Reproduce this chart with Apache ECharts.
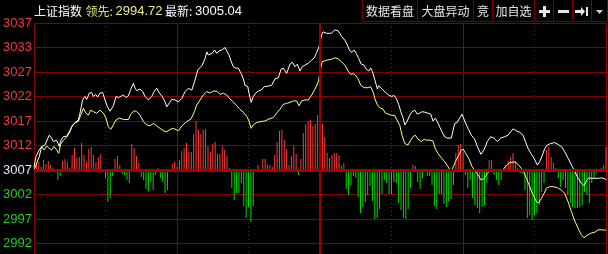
<!DOCTYPE html>
<html><head><meta charset="utf-8">
<script src="https://cdn.jsdelivr.net/npm/echarts@6/dist/echarts.min.js"></script>
<style>html,body{margin:0;padding:0;background:#000;overflow:hidden}#c{width:608px;height:254px}</style>
</head><body><div id="c"></div>
<script>
// ---- data ----
const yTickLabels = ['2987','2992','2997','3002','3007','3012','3017','3022','3027','3033','3037'];
const titleParts = ['上证指数', '领先:', '最新:'];
const toolbarButtons = ['数据看盘', '大盘异动', '竞', '加自选'];

// [minute, price] for the index (white)
const indexLine = [[0,3007.0],[2.2,3009.7],[3.2,3011.8],[4.6,3012.1],[5.3,3011.8],[6.4,3014.1],[7.4,3013.5],[8.1,3012.8],[9.5,3013.1],[10.6,3011.8],[11.3,3013.1],[12.3,3013.8],[13.7,3013.9],[14.8,3014.8],[15.8,3015.8],[17.2,3016.7],[18.6,3017.2],[19.3,3018.6],[20.4,3021.3],[21.4,3022.0],[22.1,3021.4],[23.2,3022.7],[24.2,3022.8],[24.9,3022.0],[25.9,3022.4],[26.7,3021.9],[27.7,3022.7],[28.8,3022.8],[29.8,3021.3],[30.8,3019.9],[31.9,3019.0],[33.3,3020.1],[34.4,3022.0],[35.4,3021.8],[36.4,3022.0],[37.5,3022.3],[38.6,3021.8],[39.6,3022.1],[40.6,3023.5],[41.7,3024.7],[42.4,3023.7],[43.1,3023.2],[44.5,3023.5],[45.6,3023.0],[46.6,3022.0],[48.0,3021.3],[49.4,3022.0],[50.4,3023.0],[51.5,3023.7],[52.6,3022.7],[53.8,3022.0],[55.0,3020.9],[55.7,3019.9],[56.8,3020.7],[57.8,3021.4],[59.2,3021.3],[60.6,3020.9],[62.0,3021.6],[63.4,3023.0],[64.8,3023.7],[66.2,3023.3],[67.6,3025.4],[68.7,3027.4],[69.7,3027.9],[70.6,3028.4],[71.8,3029.8],[72.5,3031.1],[73.1,3030.5],[73.9,3030.1],[74.8,3030.8],[75.7,3031.5],[76.7,3030.8],[77.6,3031.3],[78.8,3031.5],[80.2,3032.0],[80.9,3031.3],[81.8,3030.5],[82.7,3029.2],[83.6,3028.1],[84.6,3027.8],[85.7,3027.8],[86.9,3026.7],[87.8,3025.7],[88.5,3024.3],[89.7,3024.0],[90.2,3022.7],[91.1,3020.8],[92.0,3022.0],[93.0,3022.7],[94.1,3023.1],[95.3,3023.3],[96.6,3024.0],[98.1,3024.1],[99.7,3024.3],[101.1,3025.6],[102.5,3025.8],[103.7,3027.6],[104.6,3027.8],[106.0,3026.7],[107.4,3028.6],[108.4,3029.0],[109.5,3028.1],[110.5,3028.6],[111.6,3027.2],[112.6,3028.1],[113.7,3028.4],[115.1,3028.8],[116.5,3029.4],[117.6,3029.9],[118.6,3031.0],[119.6,3032.2],[120.7,3034.6],[121.3,3035.2],[122.7,3034.9],[124.8,3034.9],[126.2,3035.6],[127.6,3035.4],[129.2,3034.2],[130.4,3033.5],[131.5,3032.5],[132.5,3031.3],[133.4,3031.0],[134.3,3031.5],[135.2,3030.8],[136.3,3029.7],[137.3,3028.6],[138.5,3028.4],[139.4,3027.6],[140.5,3027.2],[141.3,3027.8],[142.0,3027.1],[143.0,3025.4],[144.1,3023.5],[144.6,3024.2],[145.7,3023.7],[146.9,3023.1],[147.8,3022.7],[148.8,3022.3],[149.9,3022.0],[151.1,3022.2],[152.0,3021.6],[153.0,3020.4],[153.9,3018.9],[154.8,3017.7],[155.6,3016.2],[156.6,3017.0],[157.7,3018.2],[158.6,3018.9],[159.8,3019.2],[160.8,3018.4],[161.9,3018.6],[162.8,3018.9],[164.0,3018.8],[165.3,3018.6],[166.5,3018.4],[167.4,3017.0],[168.4,3017.6],[169.2,3016.9],[170.2,3015.8],[171.2,3014.8],[172.3,3013.8],[173.4,3013.5],[175.1,3013.5],[175.8,3013.8],[176.5,3016.5],[177.6,3016.7],[178.6,3017.6],[179.6,3018.4],[180.7,3017.0],[182.1,3015.5],[183.5,3014.1],[184.9,3013.3],[186.0,3011.8],[187.5,3010.2],[188.8,3011.1],[190.2,3012.8],[191.6,3013.8],[193.0,3013.5],[194.4,3012.8],[195.8,3013.5],[197.5,3013.8],[198.9,3014.1],[200.0,3014.8],[201.0,3015.4],[202.4,3015.0],[203.8,3014.7],[205.2,3014.1],[206.2,3012.8],[207.3,3011.4],[208.7,3010.2],[209.8,3009.4],[211.2,3008.0],[212.2,3008.7],[213.2,3009.9],[214.3,3011.4],[215.4,3012.1],[216.8,3012.4],[218.5,3012.6],[219.9,3012.2],[221.3,3011.8],[222.7,3010.7],[224.1,3009.4],[225.5,3008.0],[226.9,3006.7],[228.3,3005.3],[229.7,3004.3],[230.8,3003.8],[231.8,3004.8],[232.8,3005.4],[233.9,3005.3],[235.3,3005.3],[236.7,3005.3],[238.1,3005.4],[239.5,3005.2],[240,3005.04]];

// [minute, price] for the leading line (yellow)
const leadLine = [[0,3007.5],[0.8,3009.7],[2.2,3011.1],[3.2,3011.8],[4.2,3011.1],[5.3,3011.9],[6.4,3011.4],[7.4,3011.1],[8.4,3011.8],[9.5,3011.1],[10.4,3010.4],[11.2,3012.3],[12.3,3013.1],[13.7,3013.7],[14.8,3014.5],[16.2,3016.2],[17.6,3016.7],[18.6,3016.9],[19.6,3018.2],[20.7,3019.6],[21.8,3018.6],[22.8,3018.2],[23.8,3019.2],[24.9,3018.9],[26.3,3018.6],[27.7,3019.2],[29.1,3018.6],[30.2,3017.6],[31.2,3015.8],[32.2,3015.3],[33.3,3016.2],[34.4,3017.2],[35.8,3017.6],[37.5,3017.3],[39.6,3017.3],[40.6,3018.4],[42.0,3019.1],[43.1,3018.9],[44.5,3018.2],[45.9,3016.9],[47.3,3016.2],[48.7,3016.0],[50.1,3016.5],[51.5,3016.0],[52.9,3015.5],[54.3,3015.0],[55.7,3014.8],[57.1,3015.3],[58.5,3015.5],[60.6,3015.0],[62.0,3016.0],[64.1,3016.9],[65.9,3017.4],[67.3,3018.9],[68.3,3020.3],[69.7,3021.3],[71.0,3022.3],[72.5,3023.0],[73.9,3022.7],[75.2,3023.1],[76.7,3023.1],[78.1,3022.4],[79.4,3022.7],[80.9,3022.3],[82.2,3021.5],[83.6,3020.9],[85.1,3020.1],[86.4,3019.4],[87.8,3018.8],[89.3,3017.9],[90.2,3017.0],[91.1,3015.5],[92.0,3016.2],[93.5,3016.7],[95.3,3016.9],[96.9,3017.0],[98.6,3017.4],[100.4,3017.7],[101.8,3018.6],[103.2,3019.4],[104.6,3020.4],[106.0,3020.6],[107.4,3020.8],[108.8,3021.1],[110.2,3021.1],[111.2,3020.1],[112.3,3021.1],[113.7,3021.3],[115.1,3021.3],[116.5,3022.3],[117.9,3023.5],[119.3,3025.0],[120.3,3027.8],[120.9,3029.1],[122.7,3029.4],[124.8,3029.6],[126.2,3029.9],[127.6,3029.7],[129.0,3029.1],[130.4,3028.4],[131.8,3027.2],[132.9,3026.5],[133.9,3026.7],[134.8,3026.4],[136.0,3025.6],[137.1,3024.3],[138.5,3023.8],[140.2,3023.8],[141.3,3024.0],[142.3,3022.9],[143.2,3021.3],[144.1,3020.3],[145.1,3019.7],[146.5,3019.4],[147.4,3018.6],[148.6,3018.4],[149.9,3018.2],[151.4,3018.1],[152.5,3017.0],[153.5,3016.1],[154.4,3014.1],[155.6,3012.4],[156.9,3012.1],[158.1,3013.1],[159.0,3013.8],[160.0,3014.1],[161.1,3013.3],[162.5,3012.8],[163.7,3013.3],[164.6,3013.1],[166.1,3013.1],[167.4,3012.9],[168.4,3011.3],[169.5,3010.4],[170.9,3009.5],[172.3,3008.7],[173.7,3007.7],[174.9,3006.7],[175.8,3007.5],[176.8,3008.7],[177.9,3009.7],[179.1,3010.9],[180.0,3011.3],[181.0,3010.5],[182.4,3009.4],[183.8,3007.7],[185.2,3006.7],[186.3,3006.0],[187.5,3005.0],[188.8,3005.2],[190.2,3006.3],[191.6,3007.0],[193.3,3007.1],[195.4,3007.1],[196.8,3007.1],[197.8,3007.7],[199.2,3008.4],[200.6,3008.6],[202.0,3008.6],[203.4,3008.0],[204.5,3007.3],[205.6,3006.5],[206.6,3005.3],[207.6,3004.1],[208.7,3002.7],[209.8,3001.6],[210.8,3000.5],[211.8,3000.3],[212.9,3001.2],[214.0,3002.2],[215.0,3003.3],[216.4,3003.6],[217.8,3003.6],[219.6,3003.4],[221.3,3002.9],[222.7,3002.2],[224.1,3000.5],[225.5,2998.5],[226.9,2996.6],[228.3,2995.1],[229.7,2993.7],[230.8,2993.2],[232.2,2993.7],[233.6,2994.1],[235.3,2994.3],[236.7,2994.8],[238.1,2994.8],[239.5,2994.72],[240,2994.72]];

// [minute, strength] red (+) / green (-) bars around the 3007 line
const flowBars = [[1,7],[2,8],[3,3],[4,10],[5,6],[6,9],[7,5],[8,2],[10,-10],[11,-6],[12,9],[13,11],[14,8],[15,2],[16,15],[17,22],[18,12],[19,13],[20,27],[21,15],[22,8],[23,21],[24,23],[25,15],[26,8],[27,13],[28,16],[29,-1],[30,-8],[31,-32],[32,-28],[33,-6],[34,11],[35,14],[36,5],[37,-4],[38,-5],[39,-10],[40,-13],[41,26],[42,22],[43,14],[44,7],[45,-7],[46,-10],[47,-19],[48,-21],[49,-12],[50,-20],[51,-5],[52,2],[53,-8],[54,-12],[55,-23],[56,-20],[57,-1],[58,6],[59,8],[60,3],[61,10],[62,19],[63,22],[64,27],[65,18],[66,18],[67,36],[68,49],[69,40],[70,36],[71,40],[72,41],[73,24],[74,18],[75,26],[76,28],[77,16],[78,16],[79,24],[80,20],[81,14],[82,2],[83,-18],[84,-30],[85,-23],[86,-23],[87,-13],[88,-36],[89,-48],[90,-37],[91,-52],[92,-36],[93,-1],[94,5],[95,1],[96,11],[97,11],[98,5],[99,5],[100,3],[101,15],[102,28],[103,39],[104,40],[105,30],[106,21],[107,5],[108,14],[109,24],[110,16],[111,-5],[112,11],[113,37],[114,46],[115,49],[116,50],[117,44],[118,46],[119,55],[120,50],[121,46],[122,33],[123,17],[124,12],[125,15],[126,17],[127,17],[128,15],[129,4],[130,7],[131,-19],[132,-25],[133,-15],[134,-6],[135,-8],[136,-27],[137,-43],[138,-37],[139,-32],[140,-25],[141,-16],[142,-31],[143,-49],[144,-48],[145,-39],[146,-24],[147,-10],[148,-13],[149,-24],[150,-24],[151,-12],[152,-13],[153,-33],[154,-40],[155,-48],[156,-49],[157,-39],[158,-18],[159,5],[160,4],[161,-12],[162,-19],[163,-8],[164,-1],[165,-6],[166,-6],[167,-15],[168,-36],[169,-39],[170,-24],[171,-24],[172,-34],[173,-37],[174,-32],[175,-29],[176,-15],[177,17],[178,25],[179,26],[180,18],[181,-5],[182,-18],[183,-10],[184,-28],[185,-35],[186,-38],[187,-43],[188,-37],[189,-35],[190,-13],[191,10],[192,10],[193,-5],[194,-10],[195,-15],[196,-10],[198,5],[199,9],[200,13],[201,17],[202,9],[203,2],[204,-3],[205,-3],[206,-20],[207,-48],[208,-45],[209,-50],[210,-45],[211,-43],[212,-35],[213,-22],[214,-13],[215,20],[216,23],[217,13],[218,7],[219,2],[220,-8],[221,-17],[222,-10],[223,-18],[224,-25],[225,-33],[226,-37],[227,-38],[228,-38],[229,-37],[230,-35],[231,-22],[232,-25],[233,-33],[234,-13],[235,-8],[236,-3],[237,-2],[238,2],[239,5],[240,23]];

// ---- chart ----
const BASE = Number(yTickLabels[0]);
const REF_IDX = yTickLabels.indexOf('3007');
const toAxis = arr => arr.map(([m, v]) => [m, +(v - BASE).toFixed(3)]);
const lastIndex = indexLine[indexLine.length - 1][1].toFixed(2);
const lastLead = leadLine[leadLine.length - 1][1].toFixed(2);

const GRID = '#850000';
const NUMF = '"Liberation Sans", Arial, sans-serif';
const CJKF = '"Noto Sans CJK SC", sans-serif';

const chart = echarts.init(document.getElementById('c'), null, {renderer: 'canvas'});

const btnX = [362, 417, 473, 492, 534, 553, 572, 591, 607];
const graphics = [];
const txt = (x, text, fill, font, extra) => Object.assign({type: 'text', x: x, y: 11.5, z: 11,
  style: Object.assign({text: text, fill: fill, font: font, verticalAlign: 'middle', textVerticalAlign: 'middle'}, extra || {})});
graphics.push(txt(34, titleParts[0], '#ffffff', '12px ' + CJKF));
graphics.push(txt(85.5, titleParts[1], '#dfe47a', '12px ' + CJKF));
graphics.push(txt(115.5, lastLead, '#ecec84', '13px ' + NUMF));
graphics.push(txt(165, titleParts[2], '#ffffff', '12px ' + CJKF));
graphics.push(txt(195, lastIndex, '#ffffff', '13px ' + NUMF));
for (let i = 0; i < btnX.length - 1; i++) {
  graphics.push({type: 'rect', shape: {x: btnX[i] + 0.5, y: -1, width: btnX[i+1] - btnX[i], height: 22.5},
    style: {fill: '#000', stroke: '#7a0000', lineWidth: 1}, z: 10});
}
toolbarButtons.forEach((t, i) => {
  graphics.push(txt((btnX[i] + btnX[i+1]) / 2 + 0.5, t, '#e8e8e8', '12px ' + CJKF, {align: 'center', textAlign: 'center'}));
});
// icons: plus, minus, arrow-to-bar, dropdown
const cx = i => (btnX[i] + btnX[i+1]) / 2 + 0.5;
graphics.push({type: 'rect', z: 11, shape: {x: cx(4) - 5, y: 10, width: 11, height: 3}, style: {fill: '#e6e6e6'}});
graphics.push({type: 'rect', z: 11, shape: {x: cx(4) - 1, y: 6, width: 3, height: 11}, style: {fill: '#e6e6e6'}});
graphics.push({type: 'rect', z: 11, shape: {x: cx(5) - 5, y: 10, width: 11, height: 3}, style: {fill: '#e6e6e6'}});
graphics.push({type: 'polygon', z: 11, shape: {points: [[cx(6)-7,10],[cx(6)-1,10],[cx(6)-1,7],[cx(6)+3,11.5],[cx(6)-1,16],[cx(6)-1,13],[cx(6)-7,13]]}, style: {fill: '#e6e6e6'}});
graphics.push({type: 'rect', z: 11, shape: {x: cx(6) + 4, y: 7, width: 2, height: 9}, style: {fill: '#e6e6e6'}});
graphics.push({type: 'polygon', z: 11, shape: {points: [[cx(7)-3.5,10],[cx(7)+3.5,10],[cx(7),14]]}, style: {fill: '#cfcfcf'}});

chart.setOption({
  backgroundColor: '#000',
  animation: false,
  grid: {left: 34, right: 2, top: 23, height: 245, containLabel: false, outerBoundsMode: 'none'},
  xAxis: [
    {type: 'value', min: 0, max: 240, interval: 60,
      axisLine: {show: false}, axisTick: {show: false}, axisLabel: {show: false},
      splitLine: {show: true, lineStyle: {color: GRID, width: 1}}},
    {type: 'value', min: 0, max: 240, interval: 30, position: 'top',
      axisLine: {show: false}, axisTick: {show: false}, axisLabel: {show: false},
      splitLine: {show: true, lineStyle: {color: '#b00000', width: 1, type: [1, 3]}}}
  ],
  yAxis: [
    {type: 'value', min: 0, max: 50, interval: 5,
      axisLine: {show: true, lineStyle: {color: GRID, width: 1}},
      axisTick: {show: false},
      splitLine: {show: true, lineStyle: {color: GRID, width: 1}},
      axisLabel: {
        margin: 2, fontSize: 13, fontFamily: NUMF,
        formatter: v => yTickLabels[Math.round(Number(v) / 5)],
        color: v => {
          const k = Math.round(Number(v) / 5);
          return k > REF_IDX ? '#ee3b3b' : (k === REF_IDX ? '#e6e6ff' : '#1fd01f');
        }
      }},
    {type: 'value', min: -98, max: 147, show: false, splitLine: {show: false}}
  ],
  series: [
    {type: 'line', xAxisIndex: 0, yAxisIndex: 0, data: [[0, 20]], showSymbol: false, symbol: 'none',
      lineStyle: {opacity: 0}, silent: true, z: 1,
      markLine: {silent: true, symbol: 'none', label: {show: false}, animation: false,
        data: [
          {yAxis: (Number(yTickLabels[REF_IDX]) - BASE), lineStyle: {color: '#a80000', width: 3, type: 'solid'}},
          {xAxis: 120, lineStyle: {color: '#9a0000', width: 2, type: 'solid'}}
        ]}},
    {type: 'bar', xAxisIndex: 0, yAxisIndex: 1, data: flowBars, barWidth: 1, z: 2,
      itemStyle: {color: p => p.value[1] >= 0 ? '#ff3b3b' : '#00dd00'}},
    {type: 'line', xAxisIndex: 0, yAxisIndex: 0, data: toAxis(leadLine), showSymbol: false, symbol: 'none', z: 3,
      lineStyle: {color: '#ffff80', width: 1}},
    {type: 'line', xAxisIndex: 0, yAxisIndex: 0, data: toAxis(indexLine), showSymbol: false, symbol: 'none', z: 4,
      lineStyle: {color: '#ffffff', width: 1}}
  ],
  graphic: graphics
});
</script>
</body></html>
